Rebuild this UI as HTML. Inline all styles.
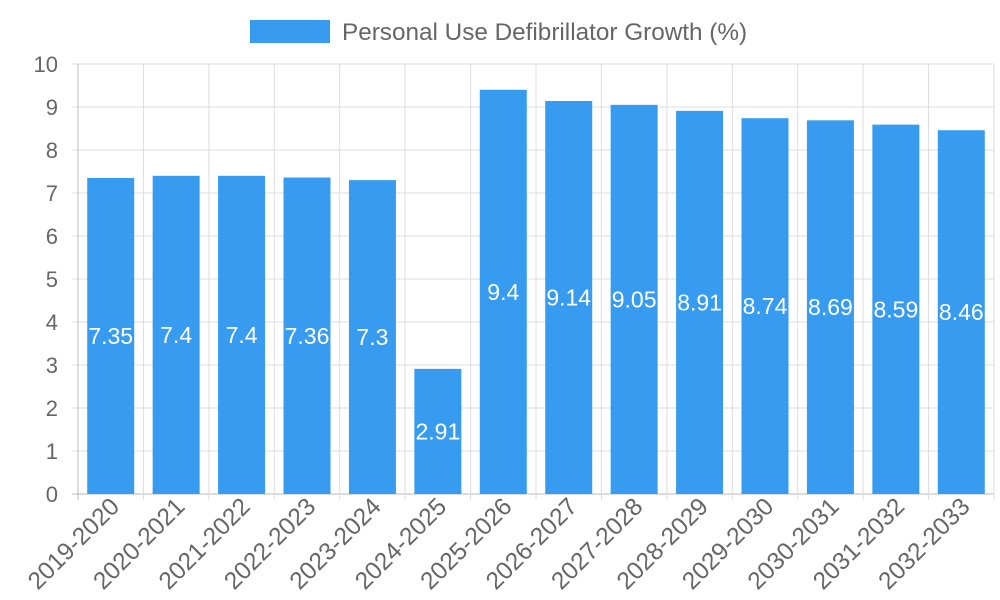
<!DOCTYPE html>
<html><head><meta charset="utf-8"><style>
body{margin:0;background:#fff;}
svg{display:block;font-family:"Liberation Sans",sans-serif;}
</style></head><body>
<svg id="c" width="1000" height="600"></svg>
<script>
const categories=["2019-2020","2020-2021","2021-2022","2022-2023","2023-2024","2024-2025","2025-2026","2026-2027","2027-2028","2028-2029","2029-2030","2030-2031","2031-2032","2032-2033"];
const values=[7.35,7.4,7.4,7.36,7.3,2.91,9.4,9.14,9.05,8.91,8.74,8.69,8.59,8.46];
const yTicks=[0,1,2,3,4,5,6,7,8,9,10];
const seriesName="Personal Use Defibrillator Growth (%)";
const svg=document.getElementById('c');
const NS="http://www.w3.org/2000/svg";
const L=78,R=994,T=64,B=494;
const bw=(R-L)/categories.length;
const x=i=>L+bw*i;
const y=v=>B-(v/10)*(B-T);
function mk(t,a,p){const e=document.createElementNS(NS,t);for(const k in a)e.setAttribute(k,a[k]);(p||svg).appendChild(e);return e;}
// legend
const lg=mk('g',{});


mk('rect',{x:250,y:20,width:80,height:23,fill:'#379cf0'},lg);
const lt=mk('text',{x:342,y:40,'font-size':24.3,fill:'#666'},lg);lt.textContent=seriesName;
// grid
const grid=mk('g',{});


yTicks.forEach(v=>{
 mk('line',{x1:L-6,x2:R,y1:y(v),y2:y(v),stroke:v===0?'#bbb':'#ddd','stroke-width':1},grid);
 const t=mk('text',{x:L-20,y:y(v)+8,'font-size':22,fill:'#666','text-anchor':'end'},grid);
 
 
 t.textContent=v;
});
for(let i=0;i<=categories.length;i++){
 mk('line',{x1:x(i),x2:x(i),y1:T,y2:B+6,stroke:i===0?'#bbb':'#ddd','stroke-width':1},grid);
}
// bars
categories.forEach((c,i)=>{
 const cx=x(i)+bw/2,w=47;
 const r=mk('rect',{x:cx-w/2,y:y(values[i]),width:w,height:B-y(values[i]),fill:'#379cf0'});
 
 
 const vt=mk('text',{x:cx,y:(y(values[i])+B)/2+8,'font-size':23,fill:'#fff','text-anchor':'middle'});
 
 
 vt.textContent=values[i];
 const xt=mk('text',{x:0,y:0,'font-size':24.5,fill:'#666','text-anchor':'end',transform:`translate(${cx+10},${B+14}) rotate(-45)`});
 
 
 xt.textContent=c;
});
</script>
</body></html>
